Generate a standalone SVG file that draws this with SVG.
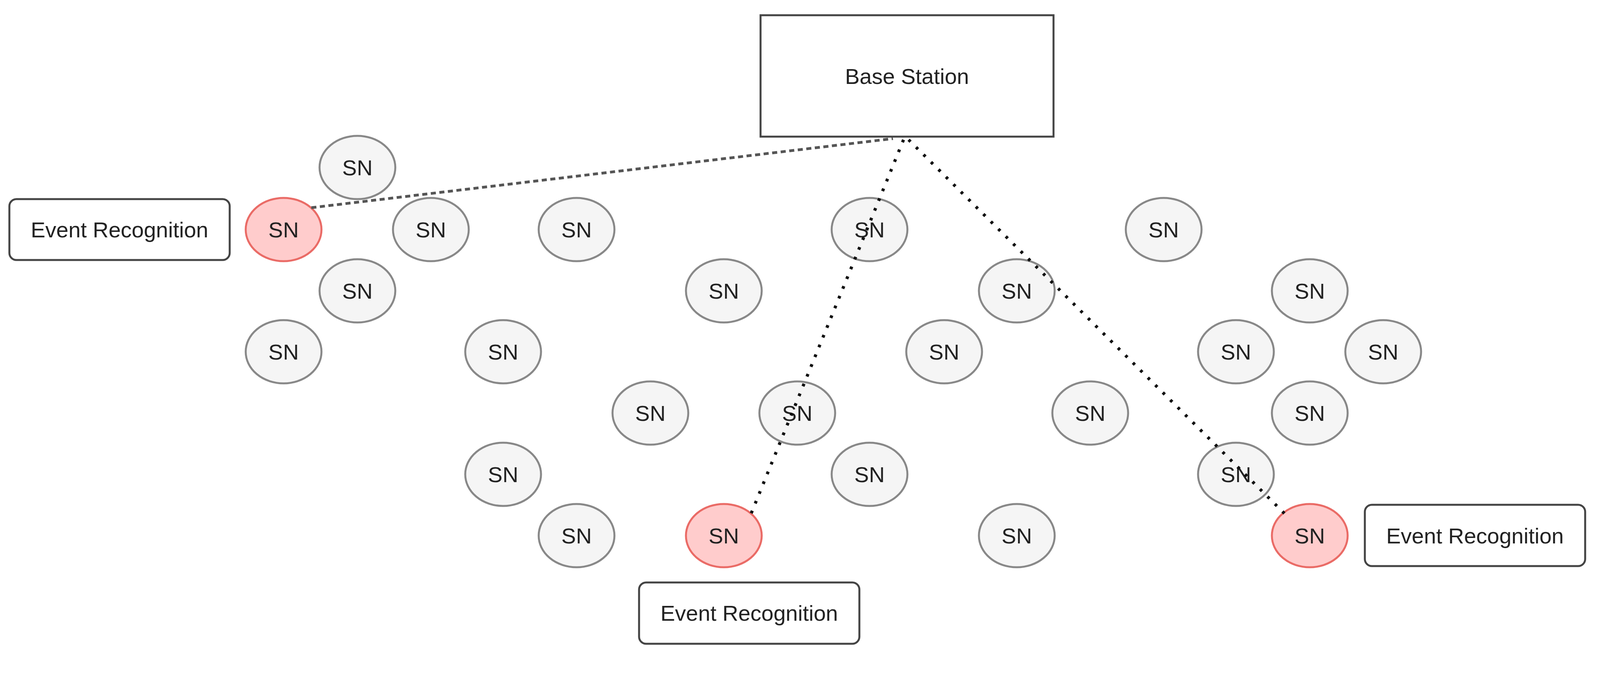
<svg xmlns="http://www.w3.org/2000/svg" width="4296" height="1770" viewBox="0 0 4296 1770">
<style>
text{font-family:"Liberation Sans",Arial,sans-serif;font-size:56px;fill:#222;text-anchor:middle;dominant-baseline:central}
.sn{fill:#f5f5f5;stroke:#888;stroke-width:5}
.red{fill:#ffcccc;stroke:#ea6b66;stroke-width:5}
.box{fill:#fff;stroke:#444;stroke-width:5}
.dash{fill:none;stroke:#555;stroke-width:7;stroke-dasharray:13 9}
.dot{fill:none;stroke:#111;stroke-width:8;stroke-dasharray:7 20}
</style>
<rect width="4296" height="1770" fill="#fff"/>
<g id="base"><rect class="box" x="1947" y="39" width="750" height="311"/><text x="2322" y="195">Base Station</text></g>
<g id="er1"><rect class="box" x="24" y="510" width="564" height="156" rx="18"/><text x="306" y="588">Event Recognition</text></g>
<g id="er2"><rect class="box" x="1636" y="1492" width="564" height="157" rx="18"/><text x="1918" y="1570">Event Recognition</text></g>
<g id="er3"><rect class="box" x="3494" y="1293" width="564" height="157" rx="18"/><text x="3776" y="1372">Event Recognition</text></g>
<g id="n1"><ellipse class="sn" cx="915" cy="429" rx="97" ry="81"/><text x="915" y="429">SN</text></g>
<g id="n2"><ellipse class="red" cx="726" cy="588" rx="97" ry="81"/><text x="726" y="588">SN</text></g>
<g id="n3"><ellipse class="sn" cx="1103" cy="588" rx="97" ry="81"/><text x="1103" y="588">SN</text></g>
<g id="n4"><ellipse class="sn" cx="1476" cy="588" rx="97" ry="81"/><text x="1476" y="588">SN</text></g>
<g id="n5"><ellipse class="sn" cx="2226" cy="588" rx="97" ry="81"/><text x="2226" y="588">SN</text></g>
<g id="n6"><ellipse class="sn" cx="2979" cy="588" rx="97" ry="81"/><text x="2979" y="588">SN</text></g>
<g id="n7"><ellipse class="sn" cx="915" cy="745" rx="97" ry="81"/><text x="915" y="745">SN</text></g>
<g id="n8"><ellipse class="sn" cx="1853" cy="745" rx="97" ry="81"/><text x="1853" y="745">SN</text></g>
<g id="n9"><ellipse class="sn" cx="2603" cy="745" rx="97" ry="81"/><text x="2603" y="745">SN</text></g>
<g id="n10"><ellipse class="sn" cx="3353" cy="745" rx="97" ry="81"/><text x="3353" y="745">SN</text></g>
<g id="n11"><ellipse class="sn" cx="726" cy="901" rx="97" ry="81"/><text x="726" y="901">SN</text></g>
<g id="n12"><ellipse class="sn" cx="1288" cy="901" rx="97" ry="81"/><text x="1288" y="901">SN</text></g>
<g id="n13"><ellipse class="sn" cx="2417" cy="901" rx="97" ry="81"/><text x="2417" y="901">SN</text></g>
<g id="n14"><ellipse class="sn" cx="3164" cy="901" rx="97" ry="81"/><text x="3164" y="901">SN</text></g>
<g id="n15"><ellipse class="sn" cx="3541" cy="901" rx="97" ry="81"/><text x="3541" y="901">SN</text></g>
<g id="n16"><ellipse class="sn" cx="1665" cy="1058" rx="97" ry="81"/><text x="1665" y="1058">SN</text></g>
<g id="n17"><ellipse class="sn" cx="2041" cy="1058" rx="97" ry="81"/><text x="2041" y="1058">SN</text></g>
<g id="n18"><ellipse class="sn" cx="2791" cy="1058" rx="97" ry="81"/><text x="2791" y="1058">SN</text></g>
<g id="n19"><ellipse class="sn" cx="3353" cy="1058" rx="97" ry="81"/><text x="3353" y="1058">SN</text></g>
<g id="n20"><ellipse class="sn" cx="1288" cy="1215" rx="97" ry="81"/><text x="1288" y="1215">SN</text></g>
<g id="n21"><ellipse class="sn" cx="2226" cy="1215" rx="97" ry="81"/><text x="2226" y="1215">SN</text></g>
<g id="n22"><ellipse class="sn" cx="3164" cy="1215" rx="97" ry="81"/><text x="3164" y="1215">SN</text></g>
<g id="n23"><ellipse class="sn" cx="1476" cy="1372" rx="97" ry="81"/><text x="1476" y="1372">SN</text></g>
<g id="n24"><ellipse class="red" cx="1853" cy="1372" rx="97" ry="81"/><text x="1853" y="1372">SN</text></g>
<g id="n25"><ellipse class="sn" cx="2603" cy="1372" rx="97" ry="81"/><text x="2603" y="1372">SN</text></g>
<g id="n26"><ellipse class="red" cx="3353" cy="1372" rx="97" ry="81"/><text x="3353" y="1372">SN</text></g>
<g id="connectors">
<path class="dash" d="M797 532 L2286 355"/>
<path class="dot" d="M2313 358 L1921 1320"/>
<path class="dot" d="M2326 358 L3298 1325"/>
</g>
</svg>
